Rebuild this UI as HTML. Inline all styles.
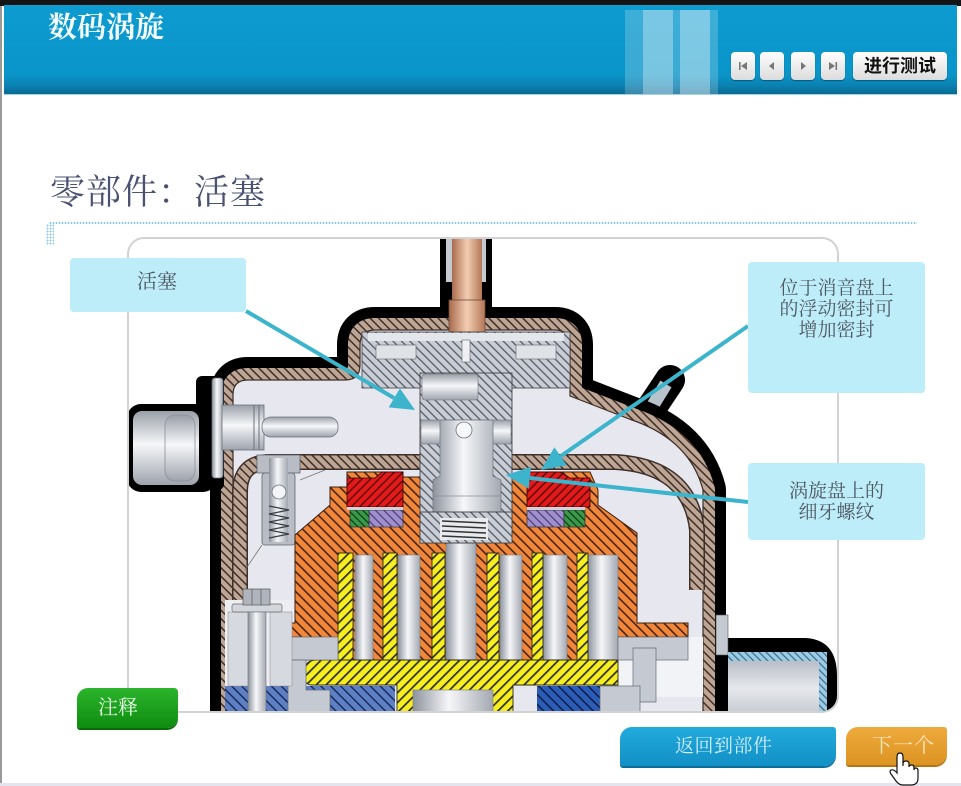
<!DOCTYPE html>
<html>
<head>
<meta charset="utf-8">
<style>
html,body{margin:0;padding:0;}
body{width:961px;height:786px;position:relative;overflow:hidden;background:#fff;font-family:"Liberation Serif","Noto Serif CJK SC",serif;}
.abs{position:absolute;}
#topbar{left:0;top:0;width:961px;height:6px;background:#141414;}
#header{left:4px;top:5px;width:953px;height:89px;background:linear-gradient(#0d9bd0 0%,#0a95c9 78%,#0a82b2 90%,#0a6a94 100%);}
#hline{left:4px;top:94px;width:953px;height:1px;background:#9fd4ea;}
.stripe{position:absolute;top:5px;height:84px;}
#title{left:48px;top:14px;font-size:29px;line-height:29px;font-weight:bold;color:#f4fbff;font-family:"Liberation Serif","Noto Serif CJK SC",serif;letter-spacing:0px;white-space:nowrap;}
.nav{position:absolute;top:52px;height:28px;width:24px;border-radius:4px;background:linear-gradient(#ffffff,#dcdcdc);box-shadow:0 1px 1px rgba(0,0,0,.35);}
#test{left:853px;width:94px;font-size:18px;line-height:28px;font-weight:bold;color:#111;text-align:center;font-family:"Liberation Sans","Noto Sans CJK SC",sans-serif;}
#sub{left:50px;top:175px;font-size:35px;line-height:35px;color:#4a5272;letter-spacing:1px;white-space:nowrap;font-family:"Liberation Serif","Noto Serif CJK SC",serif;}
#dots{left:49px;top:222px;width:868px;height:2px;background-image:radial-gradient(circle,#7fc6e6 45%,transparent 50%);background-size:3px 2px;}
#dots2{left:46px;top:224px;width:8px;height:21px;background-image:radial-gradient(circle,#8ccbe8 45%,transparent 50%);background-size:3px 3px;}
.callout{position:absolute;background:#bdedf9;border-radius:4px;color:#4e5862;font-size:19px;line-height:21px;text-align:center;font-family:"Liberation Serif","Noto Serif CJK SC",serif;}
.btn{position:absolute;color:#fff;font-family:"Liberation Serif","Noto Serif CJK SC",serif;}
</style>
</head>
<body>
<div class="abs" style="left:0;top:0;width:2px;height:786px;background:#9a9a9a;"></div>
<div class="abs" style="left:0;top:783px;width:961px;height:3px;background:#e4e4ee;"></div>
<div id="topbar" class="abs"></div>
<div id="header" class="abs">
  <div class="stripe" style="left:621px;width:18px;background:rgba(255,255,255,0.2);"></div>
  <div class="stripe" style="left:639px;width:30px;background:rgba(255,255,255,0.45);"></div>
  <div class="stripe" style="left:669px;width:7px;background:rgba(255,255,255,0.2);"></div>
  <div class="stripe" style="left:676px;width:30px;background:rgba(255,255,255,0.47);"></div>
  <div class="stripe" style="left:706px;width:8px;background:rgba(255,255,255,0.2);"></div>
</div>
<div id="hline" class="abs"></div>
<div id="title" class="abs">数码涡旋</div>

<div class="nav" style="left:731px;"><svg width="24" height="28"><rect x="8" y="10" width="1.6" height="8" fill="#777"/><polygon points="16,10 16,18 10,14" fill="#777"/></svg></div>
<div class="nav" style="left:760px;"><svg width="24" height="28"><polygon points="14,10 14,18 9,14" fill="#777"/></svg></div>
<div class="nav" style="left:791px;"><svg width="24" height="28"><polygon points="10,10 10,18 15,14" fill="#777"/></svg></div>
<div class="nav" style="left:821px;"><svg width="24" height="28"><polygon points="8,10 8,18 14,14" fill="#777"/><rect x="14.5" y="10" width="1.6" height="8" fill="#777"/></svg></div>
<div id="test" class="nav">进行测试</div>

<div id="sub" class="abs">零部件：活塞</div>
<div id="dots" class="abs"></div>
<div id="dots2" class="abs"></div>

<svg class="abs" style="left:0;top:0" width="961" height="786" viewBox="0 0 961 786">
<defs>
  <pattern id="hBrown" width="6" height="6" patternUnits="userSpaceOnUse" patternTransform="rotate(-45)">
    <rect width="6" height="6" fill="#bea594"/><rect width="1.5" height="6" fill="#3e302a"/>
  </pattern>
  <pattern id="hOrange" width="7" height="7" patternUnits="userSpaceOnUse" patternTransform="rotate(-45)">
    <rect width="7" height="7" fill="#f0873a"/><rect width="1.6" height="7" fill="#4a2410"/>
  </pattern>
  <pattern id="hYellow" width="7" height="7" patternUnits="userSpaceOnUse" patternTransform="rotate(45)">
    <rect width="7" height="7" fill="#f6ee1e"/><rect width="1.7" height="7" fill="#2e2e20"/>
  </pattern>
  <pattern id="hGrey" width="6" height="6" patternUnits="userSpaceOnUse" patternTransform="rotate(-45)">
    <rect width="6" height="6" fill="#c9cdd5"/><rect width="1.3" height="6" fill="#565b66"/>
  </pattern>
  <pattern id="hRed" width="6" height="6" patternUnits="userSpaceOnUse" patternTransform="rotate(45)">
    <rect width="6" height="6" fill="#e21a1a"/><rect width="1.4" height="6" fill="#5a0808"/>
  </pattern>
  <pattern id="hBlue" width="7" height="7" patternUnits="userSpaceOnUse" patternTransform="rotate(-45)">
    <rect width="7" height="7" fill="#5d80c4"/><rect width="1.5" height="7" fill="#1c2c5e"/>
  </pattern>
  <pattern id="hBlue2" width="7" height="7" patternUnits="userSpaceOnUse" patternTransform="rotate(-45)">
    <rect width="7" height="7" fill="#2b5cb6"/><rect width="1.5" height="7" fill="#0e1d48"/>
  </pattern>
  <pattern id="hLBlue" width="5" height="5" patternUnits="userSpaceOnUse" patternTransform="rotate(-45)">
    <rect width="5" height="5" fill="#9ccbe6"/><rect width="1.2" height="5" fill="#3d6a88"/>
  </pattern>
  <pattern id="hPurple" width="6" height="6" patternUnits="userSpaceOnUse" patternTransform="rotate(-45)">
    <rect width="6" height="6" fill="#9f8fce"/><rect width="1.2" height="6" fill="#4a3d70"/>
  </pattern>
  <pattern id="hGreen" width="5" height="5" patternUnits="userSpaceOnUse" patternTransform="rotate(-45)">
    <rect width="5" height="5" fill="#3a9a4a"/><rect width="1.2" height="5" fill="#0f3a18"/>
  </pattern>
  <linearGradient id="cylV" x1="0" y1="0" x2="1" y2="0">
    <stop offset="0" stop-color="#8d939d"/><stop offset="0.45" stop-color="#f6f7f9"/><stop offset="1" stop-color="#a3a8b1"/>
  </linearGradient>
  <linearGradient id="cylH" x1="0" y1="0" x2="0" y2="1">
    <stop offset="0" stop-color="#9aa0a9"/><stop offset="0.45" stop-color="#f6f7f9"/><stop offset="1" stop-color="#9ea3ad"/>
  </linearGradient>
  <linearGradient id="copper" x1="0" y1="0" x2="1" y2="0">
    <stop offset="0" stop-color="#a86a4c"/><stop offset="0.5" stop-color="#f3cdb2"/><stop offset="1" stop-color="#b47858"/>
  </linearGradient>
  <linearGradient id="termG" x1="0" y1="0" x2="0" y2="1">
    <stop offset="0" stop-color="#b9bec7"/><stop offset="0.5" stop-color="#e6e8ec"/><stop offset="1" stop-color="#c3c7cf"/>
  </linearGradient>
  <clipPath id="fc"><rect x="129" y="239" width="708" height="472" rx="15"/></clipPath>
</defs>

<rect x="128" y="238" width="710" height="474" rx="16" fill="#fff" stroke="#d2d2d2" stroke-width="2"/>

<g clip-path="url(#fc)">
  <!-- right fitting -->
  <line x1="650" y1="410" x2="670" y2="380" stroke="#000" stroke-width="30" stroke-linecap="round"/>
  <line x1="650" y1="410" x2="666" y2="384" stroke="#b9c3cc" stroke-width="13" stroke-linecap="butt"/>
  <!-- terminal box outer -->
  <path d="M712,638 L806,638 Q837,640 837,676 L837,730 L712,730 Z" fill="#000"/>

  <!-- shell -->
  <path d="M233,740 L233,395 Q233,380 248,380 L345,380 Q360,380 360,365 L360,345 Q360,330 375,330 L555,330 Q570,330 570,345 L570,396 L632,420 Q690,440 703,490 L703,740" fill="none" stroke="#000" stroke-width="46" stroke-linejoin="round"/>
  <path d="M233,740 L233,395 Q233,380 248,380 L345,380 Q360,380 360,365 L360,345 Q360,330 375,330 L555,330 Q570,330 570,345 L570,396 L632,420 Q690,440 703,490 L703,740" fill="none" stroke="url(#hBrown)" stroke-width="24" stroke-linejoin="round"/>
  <path d="M233,740 L233,395 Q233,380 248,380 L345,380 Q360,380 360,365 L360,345 Q360,330 375,330 L555,330 Q570,330 570,345 L570,396 L632,420 Q690,440 703,490 L703,740 Z" fill="#e7e7ef" stroke="#3e302a" stroke-width="1.2"/>

  <!-- top pipe -->
  <rect x="440" y="236" width="52" height="80" fill="#000"/>
  <rect x="446" y="236" width="40" height="46" fill="#c5cad2"/>
  <rect x="452" y="236" width="30" height="100" fill="url(#copper)"/>
  <rect x="449" y="300" width="36" height="32" fill="url(#copper)" stroke="#6b4a3a" stroke-width="0.8"/>

  <!-- muffler plate -->
  <path d="M240,612 L240,492 Q240,462 270,462 L615,462 Q690,466 697,530 L697,590" fill="none" stroke="#3e302a" stroke-width="16" stroke-linejoin="round"/>
  <path d="M240,612 L240,492 Q240,462 270,462 L615,462 Q690,466 697,530 L697,590" fill="none" stroke="url(#hBrown)" stroke-width="13" stroke-linejoin="round"/>

  <!-- left fitting -->
  <rect x="196" y="376" width="28" height="114" rx="6" fill="#000"/>
  <rect x="127" y="404" width="90" height="88" rx="14" fill="#000"/>
  <rect x="133" y="411" width="66" height="74" rx="9" fill="url(#cylH)"/>
  <rect x="165" y="415" width="30" height="66" rx="10" fill="url(#cylH)" stroke="#8a9099" stroke-width="0.8"/>
  <rect x="212" y="378" width="11" height="100" rx="3" fill="url(#cylV)" stroke="#6c727b" stroke-width="0.8"/>
  <rect x="222" y="405" width="42" height="45" fill="url(#cylH)" stroke="#6c727b" stroke-width="0.8"/>
  <line x1="254" y1="405" x2="254" y2="450" stroke="#6c727b"/>
  <line x1="259" y1="405" x2="259" y2="450" stroke="#6c727b"/>
  <rect x="262" y="417" width="76" height="20" rx="9" fill="url(#cylH)" stroke="#6c727b" stroke-width="0.8"/>

  <!-- left valve -->
  <rect x="257" y="455" width="43" height="18" fill="#b7bcc5" stroke="#5f656e" stroke-width="0.8"/>
  <rect x="262" y="473" width="33" height="72" rx="3" fill="#b7bcc5" stroke="#5f656e" stroke-width="0.8"/>
  <rect x="269" y="458" width="19" height="84" fill="url(#cylV)"/>
  <circle cx="279" cy="492" r="7" fill="#f4f5f7" stroke="#6c727b" stroke-width="0.8"/>
  <path d="M269,506 L289,510 L269,514 L289,518 L269,522 L289,526 L269,530 L289,534 L269,538" fill="none" stroke="#3a3f46" stroke-width="1.3"/>
  <line x1="300" y1="480" x2="325" y2="470" stroke="#777" stroke-width="0.8"/>
  <line x1="262" y1="545" x2="245" y2="570" stroke="#777" stroke-width="0.8"/>

  <!-- light zones lower -->
  <rect x="225" y="600" width="80" height="88" fill="#eceef2"/>
  <rect x="618" y="637" width="85" height="60" fill="#f2f3f6"/>

  <!-- orange fixed scroll -->
  <path d="M330,487 L347,487 L347,472 L403,472 L403,477 L420,477 L512,477 L527,477 L527,472 L590,472 L598,490 L598,505 L637,533 L637,623 L688,623 L688,637 L618,637 L618,660 L300,660 L300,637 L282,637 L282,623 L295,623 L295,535 L330,505 Z" fill="url(#hOrange)" stroke="#3a2010" stroke-width="1"/>

  <!-- white columns -->
  <rect x="355" y="555" width="18" height="105" fill="url(#cylV)" stroke="#7a808a" stroke-width="0.6"/>
  <rect x="398" y="555" width="22" height="105" fill="url(#cylV)" stroke="#7a808a" stroke-width="0.6"/>
  <rect x="500" y="555" width="22" height="105" fill="url(#cylV)" stroke="#7a808a" stroke-width="0.6"/>
  <rect x="543" y="555" width="24" height="105" fill="url(#cylV)" stroke="#7a808a" stroke-width="0.6"/>
  <rect x="588" y="555" width="30" height="105" fill="url(#cylV)" stroke="#7a808a" stroke-width="0.6"/>
  <!-- shaft -->
  <rect x="446" y="540" width="30" height="180" fill="url(#cylV)" stroke="#7a808a" stroke-width="0.6"/>

  <!-- yellow orbiting scroll -->
  <g fill="url(#hYellow)" stroke="#2a2a18" stroke-width="0.9">
    <rect x="338" y="553" width="15" height="112"/>
    <rect x="383" y="553" width="14" height="112"/>
    <rect x="432" y="553" width="13" height="112"/>
    <rect x="487" y="553" width="12" height="112"/>
    <rect x="532" y="553" width="11" height="112"/>
    <rect x="577" y="553" width="11" height="112"/>
    <path d="M305,670 Q305,660 317,660 L618,660 L618,685 L513,685 L513,716 L397,716 L397,685 L312,685 Q305,685 305,678 Z"/>
  </g>
  <rect x="413" y="690" width="80" height="26" fill="url(#cylV)" stroke="#7a808a" stroke-width="0.6"/>

  <!-- seals -->
  <path d="M347,478 L375,478 L382,472 L403,472 L403,507 L347,507 Z" fill="url(#hRed)" stroke="#300" stroke-width="0.8"/>
  <path d="M527,472 L560,472 L570,478 L590,478 L590,507 L527,507 Z" fill="url(#hRed)" stroke="#300" stroke-width="0.8"/>
  <rect x="369" y="510" width="34" height="17" fill="url(#hPurple)" stroke="#333" stroke-width="0.7"/>
  <rect x="350" y="510" width="19" height="17" fill="url(#hGreen)" stroke="#333" stroke-width="0.7"/>
  <rect x="527" y="510" width="37" height="17" fill="url(#hPurple)" stroke="#333" stroke-width="0.7"/>
  <rect x="564" y="510" width="21" height="17" fill="url(#hGreen)" stroke="#333" stroke-width="0.7"/>
  <rect x="347" y="507" width="56" height="3" fill="#d0d4da"/>
  <rect x="527" y="507" width="58" height="3" fill="#d0d4da"/>

  <!-- cap plate -->
  <rect x="362" y="332" width="208" height="56" fill="url(#hGrey)" stroke="#444" stroke-width="0.8"/>
  <rect x="368" y="333" width="196" height="8" fill="#e3e6eb"/>
  <rect x="376" y="345" width="40" height="14" fill="#dfe2e7" stroke="#666" stroke-width="0.6"/>
  <rect x="516" y="345" width="40" height="14" fill="#dfe2e7" stroke="#666" stroke-width="0.6"/>
  <rect x="462" y="340" width="8" height="22" fill="#eef0f3" stroke="#666" stroke-width="0.6"/>

  <!-- piston -->
  <rect x="420" y="373" width="92" height="170" fill="url(#hGrey)" stroke="#444" stroke-width="0.9"/>
  <rect x="422" y="374" width="56" height="26" rx="3" fill="url(#cylH)" stroke="#6c727b" stroke-width="0.6"/>
  <rect x="421" y="420" width="90" height="24" fill="url(#cylH)" stroke="#6c727b" stroke-width="0.6"/>
  <path d="M440,420 L493,420 L493,476 L501,480 L501,512 L433,512 L433,480 L440,476 Z" fill="url(#cylV)" stroke="#6c727b" stroke-width="0.7"/>
  <line x1="434" y1="496" x2="500" y2="496" stroke="#8a9099" stroke-width="0.8"/>
  <circle cx="464" cy="430" r="8" fill="#f6f7f9" stroke="#6c727b" stroke-width="0.8"/>
  <rect x="420" y="512" width="92" height="31" fill="url(#hGrey)" stroke="#444" stroke-width="0.9"/>
  <rect x="440" y="518" width="48" height="22" fill="#e8eaee"/>
  <path d="M442,521 L486,523 M442,526 L486,528 M442,531 L486,533 M442,536 L486,538" stroke="#333" stroke-width="1.4"/>

  <!-- bottom parts -->
  <rect x="225" y="686" width="170" height="30" fill="url(#hBlue)"/>
  <rect x="537" y="686" width="64" height="30" fill="url(#hBlue2)"/>
  <rect x="282" y="637" width="56" height="23" fill="#c5c9d1" stroke="#666b74" stroke-width="0.7"/>
  <path d="M288,660 L306,660 L306,690 L330,690 L330,716 L288,716 Z" fill="#c5c9d1" stroke="#666b74" stroke-width="0.7"/>
  <rect x="618" y="637" width="70" height="23" fill="#c5c9d1" stroke="#666b74" stroke-width="0.7"/>
  <path d="M633,648 L656,648 L656,702 L618,702 L618,690 L633,690 Z" fill="#c5c9d1" stroke="#666b74" stroke-width="0.7"/>
  <rect x="600" y="686" width="40" height="30" fill="#c5c9d1" stroke="#666b74" stroke-width="0.7"/>
  <rect x="228" y="612" width="24" height="74" fill="#d6d9df" stroke="#888" stroke-width="0.5"/>
  <rect x="270" y="612" width="22" height="74" fill="#d6d9df" stroke="#888" stroke-width="0.5"/>
  <!-- bolt -->
  <rect x="232" y="604" width="50" height="8" rx="2" fill="#d3d7dd" stroke="#666" stroke-width="0.7"/>
  <rect x="243" y="589" width="27" height="16" fill="#b0b5bd" stroke="#555" stroke-width="0.7"/>
  <line x1="252" y1="589" x2="252" y2="605" stroke="#555" stroke-width="0.7"/>
  <line x1="261" y1="589" x2="261" y2="605" stroke="#555" stroke-width="0.7"/>
  <rect x="248" y="612" width="18" height="104" fill="url(#cylV)" stroke="#6c727b" stroke-width="0.6"/>

  <!-- terminal box interior -->
  <rect x="716" y="615" width="12" height="40" fill="#c5c9d1" stroke="#555" stroke-width="0.6"/>
  <rect x="728" y="652" width="99" height="9" fill="url(#hLBlue)"/>
  <rect x="819" y="652" width="8" height="64" fill="url(#hLBlue)"/>
  <rect x="728" y="661" width="91" height="55" fill="url(#termG)"/>
</g>

<!-- arrows -->
<g stroke="#3bb4cc" stroke-width="4" fill="#3bb4cc">
  <line x1="246" y1="311" x2="394" y2="398"/>
  <polygon points="415,410 388.7,407.4 399.9,388.4" stroke="none"/>
  <line x1="748" y1="326" x2="561" y2="456"/>
  <polygon points="541,470 554.4,447.3 567,465.3" stroke="none"/>
  <line x1="748" y1="502" x2="530" y2="478"/>
  <polygon points="506,475 531.1,466.7 528.7,488.6" stroke="none"/>
</g>
</svg>

<!-- callouts -->
<div class="callout" style="left:70px;top:258px;width:176px;height:54px;text-align:left;">
  <div style="position:absolute;left:67px;top:14px;font-size:20px;line-height:20px;">活塞</div>
</div>
<div class="callout" style="left:748px;top:262px;width:177px;height:131px;">
  <div style="padding-top:16px;">位于消音盘上<br>的浮动密封可<br>增加密封</div>
</div>
<div class="callout" style="left:748px;top:463px;width:177px;height:77px;">
  <div style="padding-top:18px;">涡旋盘上的<br>细牙螺纹</div>
</div>

<!-- bottom buttons -->
<div class="btn" style="left:77px;top:688px;width:101px;height:40px;border-radius:11px 4px 11px 3px;background:linear-gradient(#2cb52c,#0f8c10);box-shadow:0 2px 0 #0b6a0b;">
  <div style="position:absolute;left:21px;top:9px;font-size:20px;line-height:22px;color:#effff0;">注释</div>
</div>
<div class="btn" style="left:620px;top:727px;width:216px;height:39px;border-radius:12px 3px 12px 3px;background:linear-gradient(#22aadd,#1290c5);box-shadow:0 2px 0 #0c6e99;">
  <div style="position:absolute;left:55px;top:9px;font-size:19px;line-height:21px;color:#d4eefb;letter-spacing:0.5px;">返回到部件</div>
</div>
<div class="btn" style="left:846px;top:727px;width:101px;height:38px;border-radius:12px 3px 12px 3px;background:linear-gradient(#eeaa3c,#dc9422);box-shadow:0 2px 0 #b57414;">
  <div style="position:absolute;left:26px;top:8px;font-size:20px;line-height:22px;color:#fce6c0;letter-spacing:1px;">下一个</div>
</div>

<!-- cursor -->
<svg class="abs" style="left:0;top:0" width="961" height="786">
  <path d="M897,771 L897,757 Q897,753 900,753 Q903,753 903,757 L903,766 L903,764 Q903,761 906,761 Q909,761 909,764 L909,767 Q909,765 912,765 Q914,765 914,768 L914,770 Q914,768 916,768 Q918,768 918,771 L918,778 Q918,785 911,785 L903,785 Q899,785 896,781 L891,774 Q889,771 891,770 Q894,769 897,773 Z" fill="#fff" stroke="#111" stroke-width="1.2"/>
</svg>
</body>
</html>
